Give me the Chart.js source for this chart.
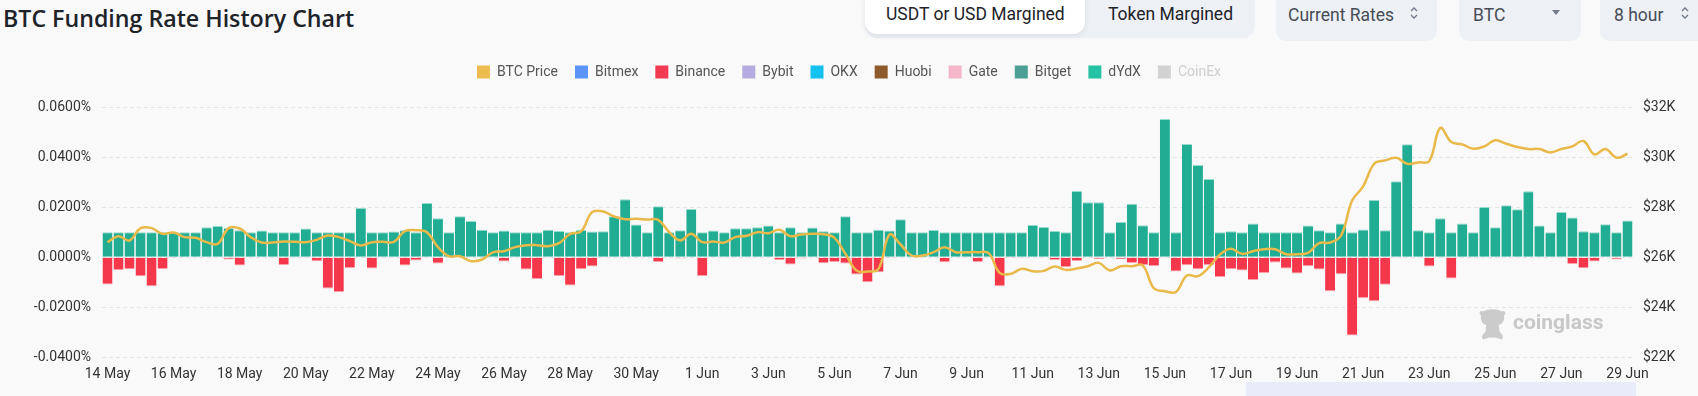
<!DOCTYPE html>
<html lang="en">
<head>
  <meta charset="UTF-8" />
  <title>BTC Funding Rate History Chart</title>
  <script src="https://cdn.jsdelivr.net/npm/chart.js"></script>
  <style>
    body { margin: 0; background: #f9f9f9; width: 1698px; height: 396px; overflow: hidden; position: relative; font-family: Roboto, Arial, sans-serif; }
    .title { position: absolute; left: 3px; top: 2px; font-family: "Open Sans", sans-serif; font-weight: 600; font-size: 23.2px; color: #1e2329; white-space: nowrap; }
    .toggle { position: absolute; left: 865px; top: -12px; width: 390px; height: 50px; background: #edf0f4; border-radius: 12px; }
    .pill { position: absolute; left: 865px; top: -12px; width: 220px; height: 46px; background: #fff; border-radius: 12px; box-shadow: 0 2px 6px rgba(0,0,0,0.08); }
    .btn-text { position: absolute; top: 4px; font-size: 17.5px; color: #1e2329; white-space: nowrap; }
    .select { position: absolute; top: -12px; height: 53px; background: #edf0f4; border-radius: 10px; }
    .select span { position: absolute; top: 17px; font-size: 17.5px; color: #474d57; white-space: nowrap; }
    .select svg { position: absolute; top: 17px; }
    #chartWrap { position: absolute; left: 0; top: 40px; width: 1698px; height: 356px; }
    .mark { position: absolute; left: 1477px; top: 307px; color: #c8c8c8; font-weight: 700; font-size: 21px; white-space: nowrap; }
    .mark span { position: absolute; left: 36px; top: 3px; }
    .scroller { position: absolute; left: 1246px; top: 382px; width: 390px; height: 20px; background: #e8ecf8; }
  </style>
</head>
<body>
  <div class="title">BTC Funding Rate History Chart</div>

  <div class="toggle"></div>
  <div class="pill"></div>
  <div class="btn-text" style="left:886px;">USDT or USD Margined</div>
  <div class="btn-text" style="left:1108px;">Token Margined</div>

  <div class="select" style="left:1276px; width:161px;">
    <span style="left:12px;">Current Rates</span>
    <svg style="left:133px;" width="10" height="16" viewBox="0 0 10 16"><path d="M2 6 L5 3 L8 6 M2 10 L5 13 L8 10" fill="none" stroke="#707a8a" stroke-width="1.3"/></svg>
  </div>
  <div class="select" style="left:1459px; width:122px;">
    <span style="left:14px;">BTC</span>
    <svg style="left:92px; top:19px;" width="10" height="10" viewBox="0 0 10 10"><path d="M1 3 L9 3 L5 8 Z" fill="#707a8a"/></svg>
  </div>
  <div class="select" style="left:1600px; width:120px;">
    <span style="left:14px;">8 hour</span>
    <svg style="left:80px;" width="10" height="16" viewBox="0 0 10 16"><path d="M2 6 L5 3 L8 6 M2 10 L5 13 L8 10" fill="none" stroke="#707a8a" stroke-width="1.3"/></svg>
  </div>

  <div id="chartWrap"><canvas id="chart" width="1698" height="356"></canvas></div>

  <div class="mark">
    <svg width="31" height="34" viewBox="0 0 30 32"><path d="M6 4 C3 2 1 6 4 8 C3 12 5 16 9 17 L8 24 C5 26 4 29 6 31 L12 29 L18 29 L24 31 C26 29 25 26 22 24 L21 17 C25 16 27 12 26 8 C29 6 27 2 24 4 C20 1 10 1 6 4 Z" fill="#cbcbcb"/></svg>
    <span>coinglass</span>
  </div>
  <div class="scroller"></div>

<script>
// one bar per 8h funding period, 14 May 00:00 -> 29 Jun 00:00
const days = ['14 May','15 May','16 May','17 May','18 May','19 May','20 May','21 May','22 May','23 May','24 May','25 May','26 May','27 May','28 May','29 May','30 May','31 May',
  '1 Jun','2 Jun','3 Jun','4 Jun','5 Jun','6 Jun','7 Jun','8 Jun','9 Jun','10 Jun','11 Jun','12 Jun','13 Jun','14 Jun','15 Jun','16 Jun','17 Jun','18 Jun','19 Jun','20 Jun',
  '21 Jun','22 Jun','23 Jun','24 Jun','25 Jun','26 Jun','27 Jun','28 Jun','29 Jun'];
const hours = ['00:00', '08:00', '16:00'];
const periods = days.flatMap(d => hours.map(h => d + ' ' + h)).slice(0, 139);

const exchanges = ['Bitmex', 'Binance', 'Bybit', 'OKX', 'Huobi', 'Gate', 'Bitget', 'dYdX', 'CoinEx'];
const exchangeColors = ['#5b93f7', '#f23b52', '#b6abe0', '#13c2ef', '#8e5a2c', '#f4b6c8', '#4c9f95', '#25c3a4', '#d2d2d2'];
const priceColor = '#e9b949';

const dydxRate = [
  0.01, 0.01, 0.01, 0.01, 0.01, 0.01, 0.01, 0.01, 0.01, 0.012, 0.0125, 0.0117, 0.0108, 0.01, 0.0107, 0.01, 0.01, 0.01, 0.0115, 0.01,
  0.01, 0.01, 0.01, 0.0196, 0.01, 0.01, 0.0103, 0.0108, 0.01, 0.0216, 0.0156, 0.01, 0.0164, 0.0145, 0.011, 0.01, 0.0107, 0.01, 0.01, 0.01,
  0.011, 0.0105, 0.01, 0.0109, 0.0103, 0.0104, 0.0164, 0.0231, 0.0131, 0.01, 0.0203, 0.01, 0.0108, 0.0192, 0.01, 0.0107, 0.01, 0.0116, 0.0116, 0.012,
  0.0127, 0.01, 0.012, 0.01, 0.0119, 0.0104, 0.01, 0.0164, 0.01, 0.01, 0.011, 0.0107, 0.0152, 0.01, 0.01, 0.0109, 0.01, 0.01, 0.01, 0.01,
  0.01, 0.01, 0.01, 0.01, 0.0129, 0.0121, 0.0105, 0.01, 0.0264, 0.0219, 0.0219, 0.01, 0.0141, 0.0213, 0.0128, 0.01, 0.0552, 0.01, 0.0452, 0.0368,
  0.0312, 0.01, 0.0104, 0.01, 0.0135, 0.01, 0.01, 0.01, 0.01, 0.0127, 0.0108, 0.01, 0.0135, 0.01, 0.0111, 0.0228, 0.0108, 0.0303, 0.0451, 0.0108,
  0.01, 0.0156, 0.01, 0.0135, 0.01, 0.02, 0.012, 0.0207, 0.0191, 0.0263, 0.0127, 0.01, 0.0181, 0.0159, 0.0104, 0.01, 0.0132, 0.01, 0.0147
];

const binanceRate = [
  -0.0109, -0.0051, -0.0048, -0.0076, -0.0116, -0.0047, -0.0001, null, null, null, null, -0.0009, -0.0033, null, null, null, -0.0031, null, -0.0003, -0.0016,
  -0.0125, -0.0139, -0.0043, null, -0.0045, null, null, -0.0033, -0.0013, null, -0.0025, null, null, null, null, null, -0.0017, null, -0.0049, -0.0087,
  null, -0.0075, -0.0113, -0.0048, -0.0037, -0.0003, null, null, null, null, -0.0019, null, -0.0005, null, -0.0075, null, null, null, null, null,
  null, -0.0011, -0.0029, -0.0005, null, -0.0024, -0.0019, -0.0025, -0.0069, -0.01, -0.006, -0.0004, null, null, null, null, -0.002, null, null, -0.0019,
  null, -0.0116, -0.0001, -0.0003, null, null, -0.0011, -0.0039, -0.0015, null, -0.0007, null, -0.0008, -0.0023, -0.0031, -0.0035, null, -0.0057, -0.0032, -0.0048,
  -0.0031, -0.0079, -0.0048, -0.0053, -0.0091, -0.0063, -0.0021, -0.0045, -0.0065, -0.0036, -0.0049, -0.0136, -0.0068, -0.0313, -0.0163, -0.0176, -0.011, null, null, null,
  -0.0037, null, -0.0085, null, -0.0003, null, null, null, null, null, null, null, null, -0.0027, -0.0044, -0.0017, null, -0.0009, null
];

const btcPrice = [
  26600, 26840, 26667, 27160, 27160, 26933, 26987, 26800, 26773, 26600, 26533, 27160, 27147, 26800, 26587, 26587, 26627, 26613, 26600, 26693,
  26867, 26800, 26640, 26467, 26600, 26613, 26613, 27040, 27080, 27000, 26400, 26040, 26040, 25840, 25907, 26190, 26240, 26400, 26480, 26480,
  26440, 26560, 26933, 27027, 27800, 27827, 27627, 27520, 27533, 27507, 27493, 27000, 26667, 26933, 26600, 26627, 26587, 26800, 26853, 27000,
  26960, 27093, 26840, 26907, 26933, 26920, 26773, 26133, 25467, 25427, 25533, 26900, 26507, 26067, 26067, 26200, 26400, 26200, 26200, 26200,
  26160, 25373, 25333, 25533, 25440, 25453, 25627, 25493, 25547, 25640, 25773, 25467, 25640, 25640, 25667, 24760, 24640, 24613, 25267, 25240,
  25600, 26107, 26333, 26133, 26240, 26320, 26320, 26120, 26120, 26173, 26560, 26587, 26867, 28267, 28827, 29733, 29867, 29973, 29733, 29787,
  29840, 31160, 30600, 30507, 30333, 30427, 30667, 30533, 30400, 30320, 30320, 30187, 30320, 30427, 30640, 30107, 30320, 29973, 30133
];

const legendGap = 18;
const tickFont = { family: 'Roboto', size: 14 };

function seriesFor(name) {
  if (name === 'Binance') return binanceRate;
  if (name === 'dYdX') return dydxRate;
  return [];
}

const barSets = exchanges.map((name, i) => ({
  type: 'bar',
  label: name,
  data: seriesFor(name),
  backgroundColor: name === 'dYdX' ? '#21ac94' : name === 'Binance' ? '#f4374b' : exchangeColors[i],
  borderColor: name === 'dYdX' ? 'rgba(140,215,200,0.9)' : 'rgba(250,150,160,0.9)',
  borderWidth: { top: 1, bottom: 1, left: 0, right: 0 },
  borderSkipped: 'start',
  legendColor: exchangeColors[i],
  barPercentage: 0.91,
  categoryPercentage: 1,
  yAxisID: 'y',
  order: 1
}));

const legendMargin = {
  id: 'legendMargin',
  beforeInit(chart) {
    const fit = chart.legend.fit;
    chart.legend.fit = function () {
      fit.bind(chart.legend)();
      this.height += legendGap;
    };
  }
};

new Chart(document.getElementById('chart').getContext('2d'), {
  data: {
    labels: periods,
    datasets: [
      {
        type: 'line',
        label: 'BTC Price',
        data: btcPrice,
        borderColor: priceColor,
        backgroundColor: '#ecbc4f',
        legendColor: '#ecbc4f',
        borderWidth: 2.5,
        pointRadius: 0,
        tension: 0.4,
        fill: false,
        yAxisID: 'y1',
        order: 0
      },
      ...barSets
    ]
  },
  options: {
    responsive: false,
    animation: false,
    layout: { padding: { top: 8, left: 0, right: 0, bottom: 0 } },
    plugins: {
      tooltip: { enabled: false },
      legend: {
        display: true,
        labels: {
          boxWidth: 13,
          boxHeight: 13,
          padding: 17,
          color: '#555',
          font: { family: 'Roboto', size: 14 },
          generateLabels(chart) {
            return chart.data.datasets.map((ds, i) => ({
              text: ds.label,
              fillStyle: ds.legendColor,
              strokeStyle: ds.legendColor,
              lineWidth: 0,
              hidden: false,
              fontColor: ds.label === 'CoinEx' ? '#cfcfcf' : '#555',
              datasetIndex: i
            }));
          }
        }
      }
    },
    scales: {
      x: {
        stacked: true,
        grid: { display: false, drawTicks: false },
        border: { display: false },
        ticks: {
          autoSkip: false,
          maxRotation: 0,
          padding: 9,
          color: '#333',
          font: tickFont,
          callback: (v, i) => i % 6 === 0 ? periods[i].split(' ').slice(0, 2).join(' ') : ''
        },
        afterFit: s => { s.height = 38.7; }
      },
      y: {
        stacked: true,
        position: 'left',
        min: -0.04,
        max: 0.06,
        ticks: {
          stepSize: 0.02,
          padding: 11,
          color: '#333',
          font: tickFont,
          callback: v => v.toFixed(4) + '%'
        },
        grid: { color: '#e4e4e4', drawTicks: false },
        border: { display: false, dash: [4, 3] },
        afterFit: s => { s.width = 102; }
      },
      y1: {
        position: 'right',
        min: 22000,
        max: 32000,
        ticks: {
          stepSize: 2000,
          padding: 10,
          color: '#333',
          font: tickFont,
          callback: v => '$' + (v / 1000) + 'K'
        },
        grid: { display: false, drawTicks: false },
        border: { display: false },
        afterFit: s => { s.width = 65; }
      }
    }
  },
  plugins: [legendMargin]
});
</script>
</body>
</html>
